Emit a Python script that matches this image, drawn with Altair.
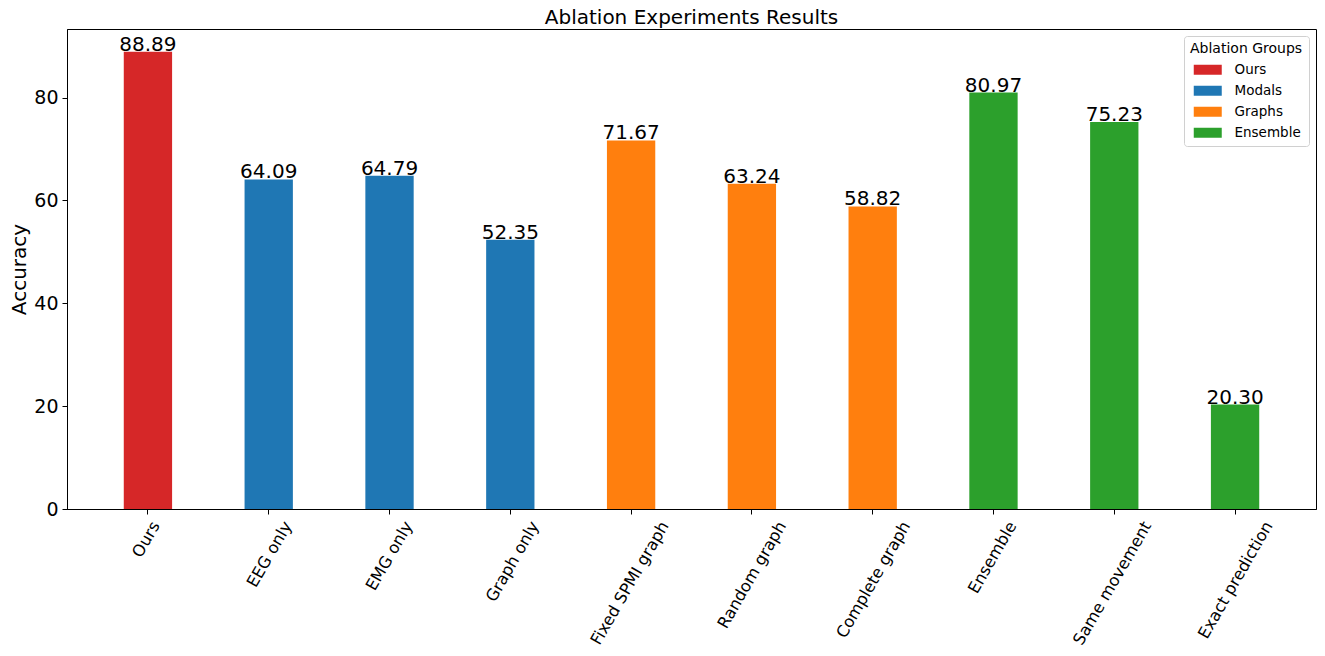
import altair as alt
import pandas as pd

categories = ["Ours", "EEG only", "EMG only", "Graph only", "Fixed SPMI graph",
              "Random graph", "Complete graph", "Ensemble", "Same movement",
              "Exact prediction"]
accuracy = [88.89, 64.09, 64.79, 52.35, 71.67, 63.24, 58.82, 80.97, 75.23, 20.30]
groups = ["Ours", "Modals", "Modals", "Modals", "Graphs", "Graphs", "Graphs",
          "Ensemble", "Ensemble", "Ensemble"]
group_order = ["Ours", "Modals", "Graphs", "Ensemble"]
group_colors = ["#d62728", "#1f77b4", "#ff7f0e", "#2ca02c"]
y_ticks = [0, 20, 40, 60, 80]

df = pd.DataFrame({"cat": categories, "acc": accuracy, "group": groups})

W, H = 1249, 480
FONT = "DejaVu Sans"

xscale = alt.Scale(domain=categories, paddingInner=0.6, paddingOuter=0.47)
yscale = alt.Scale(domain=[0, 93.33], nice=False, zero=True)

base = alt.Chart(df)

bars = base.mark_bar().encode(
    x=alt.X("cat:N", sort=categories, scale=xscale,
            axis=alt.Axis(title=None, labels=False, ticks=True, tickSize=5,
                          tickColor="black", domainColor="black", grid=False)),
    y=alt.Y("acc:Q", scale=yscale,
            axis=alt.Axis(title="Accuracy", values=y_ticks, tickSize=5,
                          tickColor="black", domainColor="black", grid=False,
                          labelFontSize=19, labelColor="black", labelPadding=4,
                          titleFontSize=20, titleFontWeight="normal",
                          titleColor="black", titlePadding=4)),
    color=alt.Color("group:N",
                    scale=alt.Scale(domain=group_order, range=group_colors),
                    legend=alt.Legend(
                        title="Ablation Groups", orient="top-right", offset=7,
                        titleFontSize=14, titleFontWeight="normal",
                        titleColor="black", labelFontSize=13.5,
                        labelColor="black",
                        symbolType="M-2.8,-1H2.8V1H-2.8Z", symbolSize=100,
                        symbolStrokeWidth=0, symbolOffset=11, labelOffset=20,
                        fillColor="white", strokeColor="#d0d0d0",
                        cornerRadius=3, padding=6, rowPadding=6,
                        titlePadding=7)),
)

values = base.mark_text(fontSize=20, baseline="alphabetic", dy=-1,
                        color="black", font=FONT).encode(
    x=alt.X("cat:N", sort=categories, scale=xscale),
    y=alt.Y("acc:Q", scale=yscale),
    text=alt.Text("acc:Q", format=".2f"),
)

xlabels = base.mark_text(fontSize=16.3, angle=300, align="right",
                         baseline="top", color="black",
                         font=FONT).transform_calculate(
    shift="min(length(datum.cat) * 2.8, 37) + 14"
).encode(
    x=alt.X("cat:N", sort=categories, scale=xscale),
    xOffset=alt.XOffset("shift:Q", scale=None),
    y=alt.value(H + 10),
    text="cat:N",
)

chart = alt.layer(bars, values, xlabels).properties(
    width=W, height=H,
    title=alt.TitleParams("Ablation Experiments Results", fontSize=20,
                          fontWeight="normal", color="black", offset=1,
                          anchor="middle", font=FONT),
    autosize=alt.AutoSizeParams(type="none"),
    padding={"left": 59, "top": 21, "right": 1, "bottom": 138},
).configure(font=FONT).configure_view(stroke="black", strokeWidth=1)

chart.save("out.html", embed_options={"renderer": "svg", "actions": False})
